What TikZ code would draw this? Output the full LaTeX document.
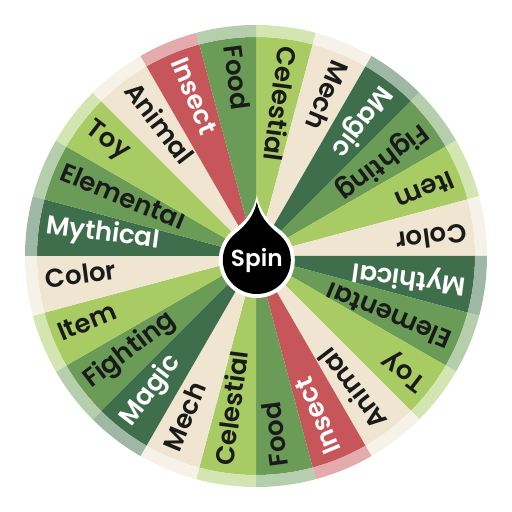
\documentclass[tikz,border=0pt]{standalone}
\usepackage{fontspec}
\setmainfont{Poppins}
\newfontfamily\wheelfont{Poppins SemiBold}
\definecolor{wmid}{HTML}{6A9C58}
\definecolor{wlight}{HTML}{A8CB63}
\definecolor{wcream}{HTML}{EFE5D1}
\definecolor{wdark}{HTML}{3F6E4C}
\definecolor{wred}{HTML}{C7565A}
\definecolor{wink}{HTML}{1A1A1A}
\tikzset{
  seglabel/.style={anchor=west,font=\fontsize{18.5}{18.5}\wheelfont,
    inner sep=0pt,text height=1.55ex,text depth=0.25ex},
}
\begin{document}
\begin{tikzpicture}
\useasboundingbox (-6.4,-6.4) rectangle (6.4,6.4);

% segments and rim
\foreach \k in {0,1}{
\foreach \lab/\col/\tcol [count=\i from 0] in {Celestial/wlight/wink,Mech/wcream/wink,Magic/wdark/white,
  Fighting/wmid/wink,Item/wlight/wink,Color/wcream/wink,Mythical/wdark/white,Elemental/wmid/wink,
  Toy/wlight/wink,Animal/wcream/wink,Insect/wred/white,Food/wmid/wink}{
  \pgfmathsetmacro{\a}{90-15*(\i+12*\k)}
  \pgfmathsetmacro{\b}{\a-15}
  \pgfmathsetmacro{\m}{\a-7.5}
  \pgfmathsetmacro{\r}{\m+180}
  \fill[\col] (0,0) -- (\a:5.475) arc (\a:\b:5.475) -- cycle;
  \fill[\col!50!white] (\a:5.475) arc (\a:\b:5.475) -- (\b:5.775) arc (\b:\a:5.775) -- cycle;
  \node[seglabel,text=\tcol,rotate=\r] (lab-\k-\i) at (\m:5.3) {\lab};
}}

% spin button
\begin{scope}[shift={(0.02,-0.1)}]
\fill[white] (0,1.62) .. controls (0.08,1.2) and (0.3,0.95) .. (50:0.95)
  arc (50:-230:0.95) .. controls (-0.3,0.95) and (-0.08,1.2) .. cycle;
\fill[black] (0,1.45) .. controls (0.07,1.1) and (0.28,0.86) .. (50:0.85)
  arc (50:-230:0.85) .. controls (-0.28,0.86) and (-0.07,1.1) .. cycle;
\node[white,font=\fontsize{16.5}{16.5}\wheelfont] (spin) at (0,0) {Spin};
\end{scope}
\end{tikzpicture}
\end{document}
